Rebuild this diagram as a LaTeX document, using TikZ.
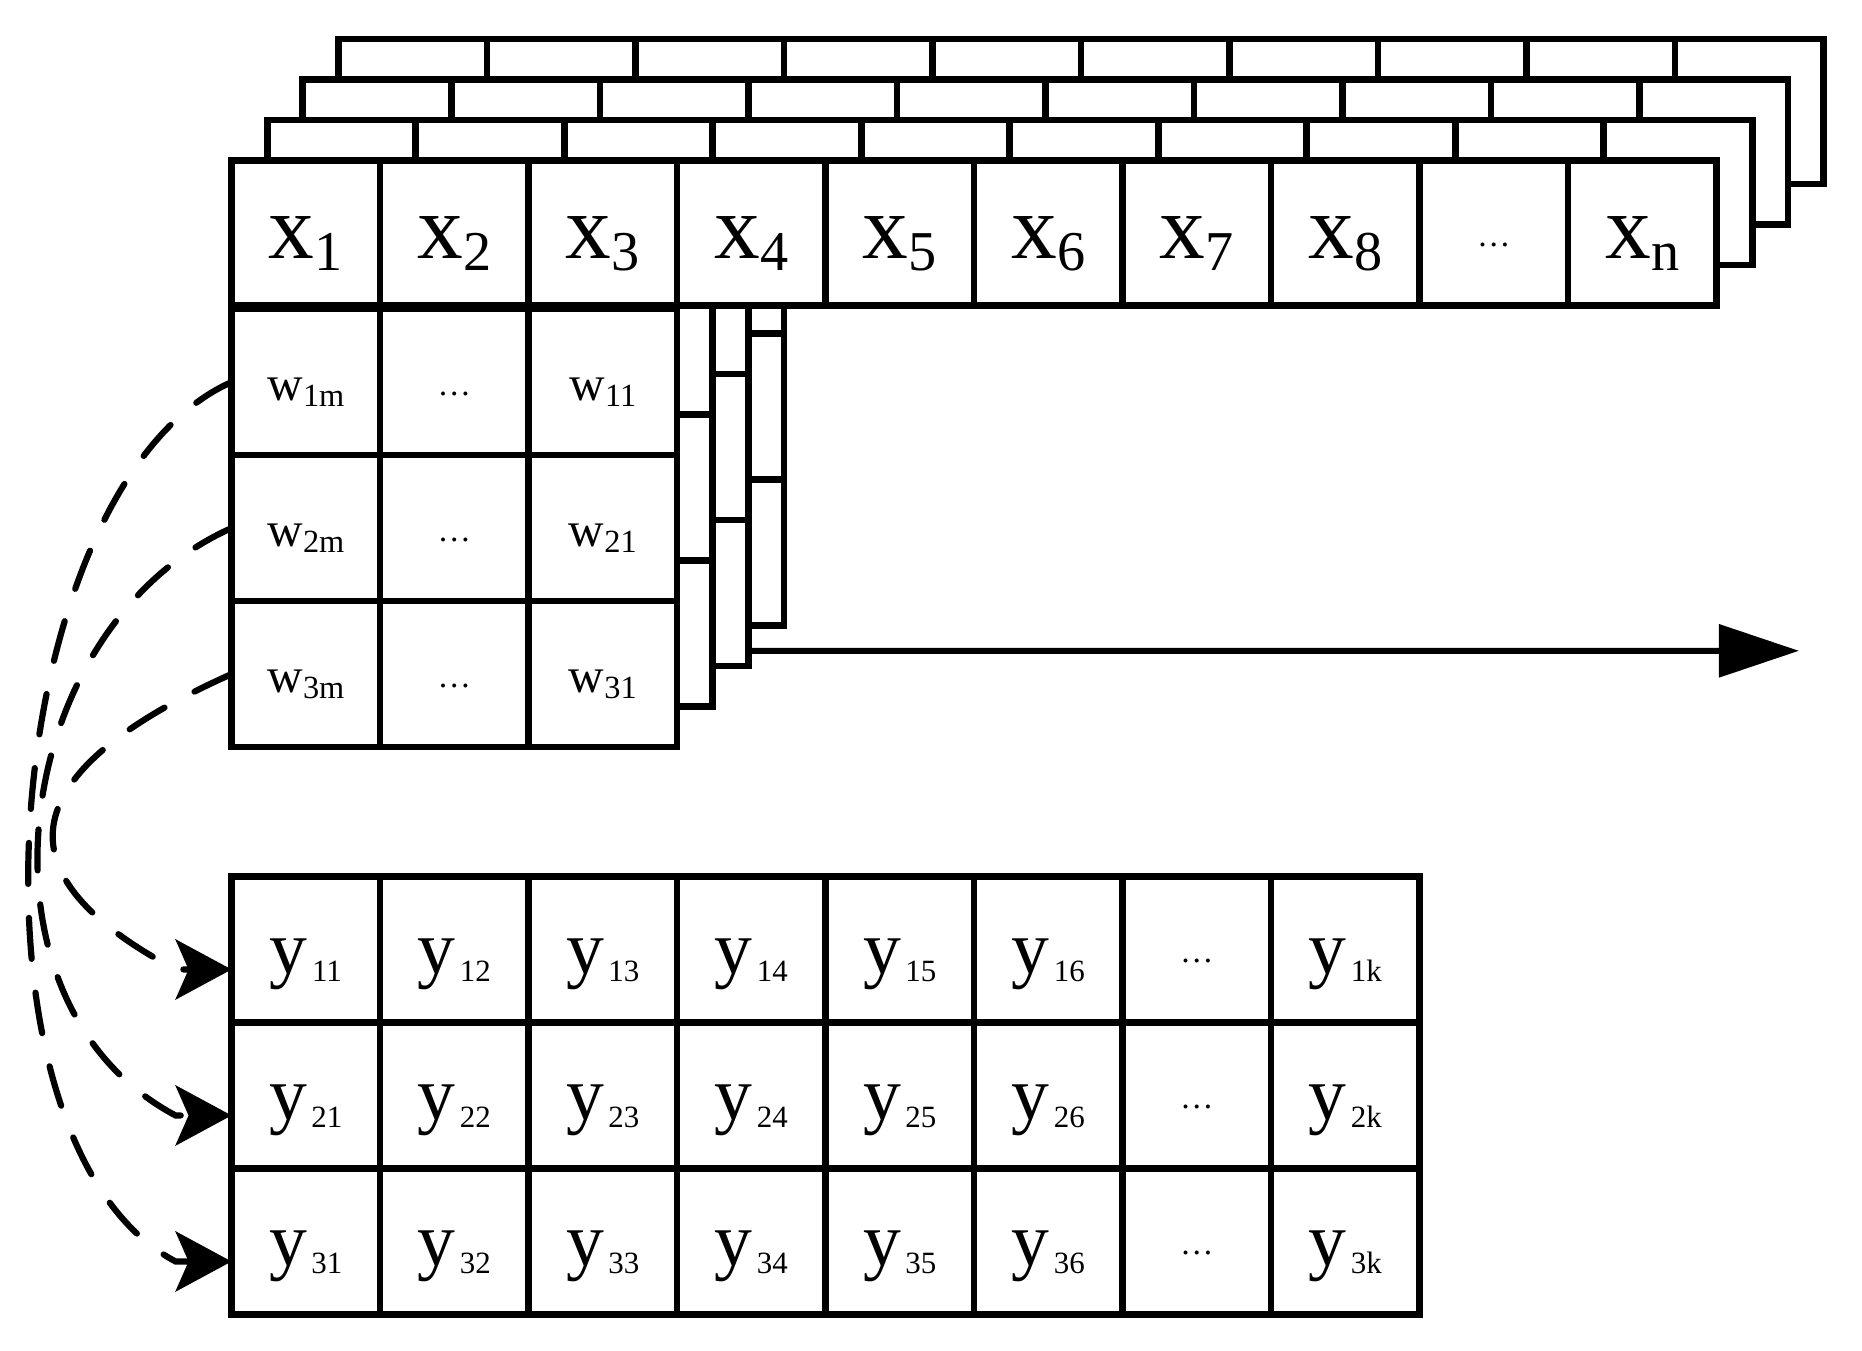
\documentclass[tikz,border=0pt]{standalone}
\usepackage{fontspec}
\setmainfont{Liberation Serif}
\usetikzlibrary{arrows.meta,calc}
\newcommand\xlab[1]{\fontsize{26}{26}\selectfont x\raisebox{-3.4pt}{\fontsize{16}{16}\selectfont #1}}
\newcommand\wlab[1]{\fontsize{14}{14}\selectfont w\raisebox{-1.7pt}{\fontsize{9.2}{9.2}\selectfont #1}}
\newcommand\ylab[1]{\fontsize{21.5}{21.5}\selectfont y\kern1.2pt\raisebox{-2.3pt}{\fontsize{8.8}{8.8}\selectfont #1}}
\begin{document}
\begin{tikzpicture}[x=0.01cm, y=0.01cm,
  cellbox/.style={draw, fill=white, line width=0.066cm, minimum width=1.485cm,
    inner sep=0pt, outer sep=0pt, anchor=north west},
  xcell/.style={cellbox, minimum height=1.45cm, text height=0.52cm, text depth=0pt},
  wcell/.style={cellbox, minimum height=1.46cm, text height=0.36cm, text depth=0pt},
  ycell/.style={cellbox, minimum height=1.46cm, text height=0.48cm, text depth=0pt},
  dotcell/.style={text height=0.27cm, text depth=0pt, font=\fontsize{9.5}{9.5}\selectfont},
  dasharrow/.style={line width=0.062cm, dash pattern=on 0.41cm off 0.34cm, line cap=round,
    -{Stealth[length=0.56cm, width=0.6cm, inset=0.13cm]}},
  mainarrow/.style={line width=0.06cm, -{Triangle[length=0.8cm, width=0.52cm]}}
]
\useasboundingbox (0,0) rectangle (1862,-1350);

% W stack, back layers
\foreach \L in {3,2,1}{
  \foreach \r in {0,1,2}{
    \foreach \c in {0,1,2}{
      \node[wcell] (wb-\L-\r-\c) at ({231.6+\c*148.5+\L*35.6}, {-309-\r*146+\L*40.5}) {};
    }
  }
}

% X stack, back layers
\foreach \L in {3,2,1}{
  \foreach \c in {0,...,9}{
    \node[xcell] (xb-\L-\c) at ({231.6+\c*148.5+\L*35.6}, {-160.3+\L*40.5}) {};
  }
}

% X front row
\foreach \c in {1,...,8}{
  \node[xcell] (x-\c) at ({231.6+(\c-1)*148.5}, -160.3) {\xlab{\c}};
}
\node[xcell, dotcell] (x-9) at ({231.6+8*148.5}, -160.3) {…};
\node[xcell] (x-10) at ({231.6+9*148.5}, -160.3) {\xlab{n}};

% W front
\foreach \r in {1,2,3}{
  \node[wcell] (w-\r-1) at (231.6, {-309-(\r-1)*146}) {\wlab{\r m}};
  \node[wcell, dotcell] (w-\r-2) at (380.1, {-309-(\r-1)*146}) {…};
  \node[wcell] (w-\r-3) at (528.6, {-309-(\r-1)*146}) {\wlab{\r 1}};
}

% Y block
\foreach \r in {1,2,3}{
  \foreach \c in {1,...,6}{
    \node[ycell] (y-\r-\c) at ({231.6+(\c-1)*148.5}, {-876.4-(\r-1)*146}) {\ylab{\r\c}};
  }
  \node[ycell, dotcell] (y-\r-7) at ({231.6+6*148.5}, {-876.4-(\r-1)*146}) {…};
  \node[ycell] (y-\r-8) at ({231.6+7*148.5}, {-876.4-(\r-1)*146}) {\ylab{\r k}};
}

% output arrow
\coordinate (arrowstart) at ([yshift=0.152cm]wb-2-2-2.south east);
\coordinate (arrowend) at (1799,-650.8);
\draw[mainarrow] (arrowstart) -- (arrowend);

% dashed curved arrows
\draw[dasharrow] (w-1-1.west) to[out=204, in=152, distance=2.57cm]
  ([xshift=-0.56cm, yshift=-0.2cm]y-3-1.west) -- ([yshift=-0.2cm]y-3-1.west);
\draw[dasharrow] (w-2-1.west) to[out=204, in=152, distance=2.43cm]
  ([xshift=-0.56cm, yshift=-0.2cm]y-2-1.west) -- ([yshift=-0.2cm]y-2-1.west);
\draw[dasharrow] (w-3-1.west) to[out=204, in=152, distance=2.2cm]
  ([xshift=-0.56cm, yshift=-0.2cm]y-1-1.west) -- ([yshift=-0.2cm]y-1-1.west);
\end{tikzpicture}
\end{document}
